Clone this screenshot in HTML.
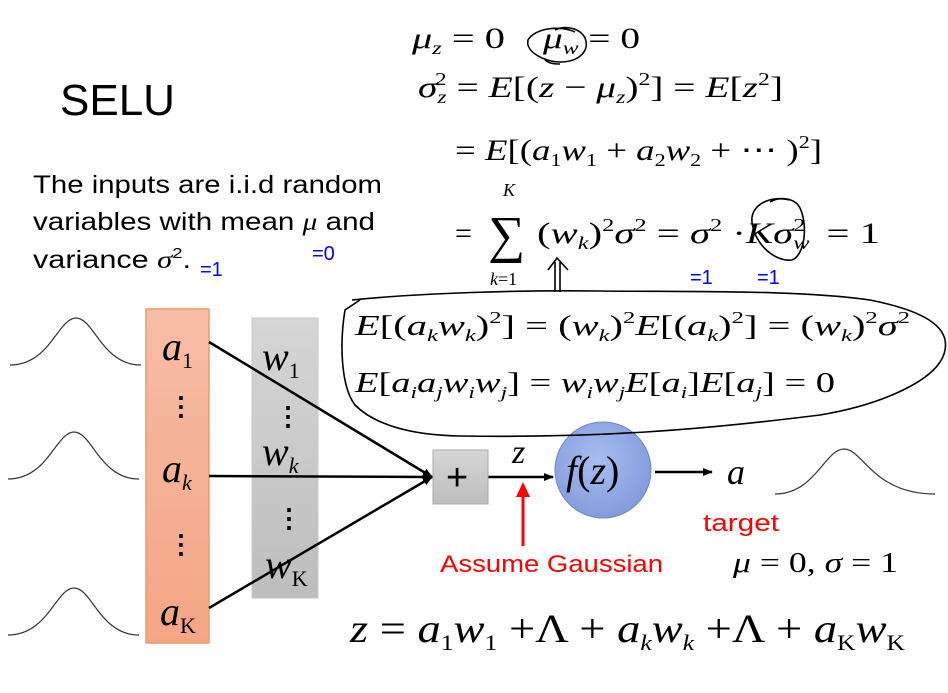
<!DOCTYPE html>
<html><head><meta charset="utf-8"><style>
body{margin:0;background:#fff}
svg{display:block}
.m{font-family:"Liberation Serif",serif;font-style:italic}
.s{font-family:"Liberation Sans",sans-serif}
</style></head><body>
<svg width="948" height="693" viewBox="0 0 948 693" xmlns="http://www.w3.org/2000/svg">
<defs>
<linearGradient id="og" x1="0" y1="0" x2="0" y2="1"><stop offset="0" stop-color="#f7bda6"/><stop offset="1" stop-color="#f4a584"/></linearGradient>
<linearGradient id="gg" x1="0" y1="0" x2="0" y2="1"><stop offset="0" stop-color="#d6d6d6"/><stop offset="1" stop-color="#bdbdbd"/></linearGradient>
<radialGradient id="cg" cx="0.45" cy="0.4" r="0.7"><stop offset="0" stop-color="#a9bdf0"/><stop offset="1" stop-color="#7c96d8"/></radialGradient>
<marker id="ar" markerWidth="10" markerHeight="10" refX="9" refY="5" orient="auto" markerUnits="userSpaceOnUse"><path d="M0,1 L10,5 L0,9 z" fill="#000"/></marker>
</defs>
<text x="60" y="115" class="s" font-size="44">SELU</text>
<text x="33" y="193" class="s" font-size="25" textLength="349" lengthAdjust="spacingAndGlyphs">The inputs are i.i.d random</text>
<text x="33" y="230" class="s" font-size="25" textLength="342" lengthAdjust="spacingAndGlyphs">variables with mean <tspan class="m">μ</tspan> and</text>
<text x="33" y="268" class="s" font-size="25" textLength="158" lengthAdjust="spacingAndGlyphs">variance <tspan class="m">σ</tspan><tspan font-size="15" dy="-10">2</tspan><tspan dy="10">.</tspan></text>
<text x="200" y="276" class="s" font-size="20" fill="#0000ff">=1</text>
<text x="312" y="260" class="s" font-size="20" fill="#0000ff">=0</text>

<g fill="none" stroke="#333" stroke-width="1.2">
<path d="M10,365 C50,365 58,318 76,318 C94,318 102,365 141,365"/>
<path d="M8,479 C48,479 56,432 74,432 C92,432 100,479 139,479"/>
<path d="M8,635 C48,635 56,588 74,588 C92,588 100,635 139,635"/>
<path d="M775,494 C815,494 825,449 844,449 C863,449 873,494 935,494"/>
</g>

<rect x="146" y="309" width="63" height="334" fill="url(#og)" stroke="#ef9a6e" stroke-width="1.5"/>
<rect x="252" y="318" width="66" height="280" fill="url(#gg)" stroke="#c8c8c8"/>
<g class="m" font-size="40">
<text x="162" y="360">a<tspan font-style="normal" font-size="22" dy="8">1</tspan></text>
<text x="162" y="482">a<tspan font-size="22" dy="8">k</tspan></text>
<text x="160" y="625">a<tspan font-style="normal" font-size="22" dy="8">K</tspan></text>
<text x="262" y="370">w<tspan font-style="normal" font-size="22" dy="8">1</tspan></text>
<text x="262" y="465">w<tspan font-size="22" dy="8">k</tspan></text>
<text x="265" y="578">w<tspan font-style="normal" font-size="22" dy="8">K</tspan></text>
</g>
<g class="s" font-size="26" font-weight="bold">
<text x="168" y="415">⋮</text><text x="168" y="553">⋮</text>
<text x="275" y="425">⋮</text><text x="276" y="527">⋮</text>
</g>
<g stroke="#000" stroke-width="2.5" fill="none">
<line x1="209" y1="342" x2="432" y2="477" marker-end="url(#ar)"/>
<line x1="209" y1="476" x2="432" y2="477" marker-end="url(#ar)"/>
<line x1="209" y1="608" x2="432" y2="477" marker-end="url(#ar)"/>
<line x1="488" y1="477" x2="553" y2="477" marker-end="url(#ar)"/>
<line x1="655" y1="472" x2="712" y2="472" marker-end="url(#ar)"/>
</g>
<rect x="433" y="450" width="55" height="54" fill="url(#gg)" stroke="#aaa"/>
<text x="446" y="490" class="s" font-size="38">+</text>
<text x="512" y="463" class="m" font-size="34">z</text>
<circle cx="603" cy="470" r="48" fill="url(#cg)" stroke="#6f87c8"/>
<text x="566" y="484" class="m" font-size="40">f<tspan font-style="normal">(</tspan>z<tspan font-style="normal">)</tspan></text>
<text x="727" y="484" class="m" font-size="36">a</text>
<line x1="523" y1="546" x2="523" y2="495" stroke="#f00" stroke-width="3"/>
<path d="M516,497 L523,482 L530,497 z" fill="#f00"/>
<text x="440" y="572" class="s" font-size="24" fill="#f00" textLength="223" lengthAdjust="spacingAndGlyphs">Assume Gaussian</text>
<text x="703" y="531" class="s" font-size="24" fill="#f00" textLength="76" lengthAdjust="spacingAndGlyphs">target</text>
<text x="733" y="572" class="m" font-size="28" textLength="165" lengthAdjust="spacingAndGlyphs">μ <tspan font-style="normal">= 0,</tspan> σ <tspan font-style="normal">= 1</tspan></text>
<text x="350" y="642" class="m" font-size="40" textLength="555" lengthAdjust="spacingAndGlyphs">z <tspan font-style="normal">=</tspan> a<tspan font-style="normal" font-size="22" dy="8">1</tspan><tspan dy="-8">w</tspan><tspan font-style="normal" font-size="22" dy="8">1</tspan><tspan font-style="normal" dy="-8"> +Λ +</tspan> a<tspan font-size="22" dy="8">k</tspan><tspan dy="-8">w</tspan><tspan font-size="22" dy="8">k</tspan><tspan font-style="normal" dy="-8"> +Λ +</tspan> a<tspan font-style="normal" font-size="22" dy="8">K</tspan><tspan dy="-8">w</tspan><tspan font-style="normal" font-size="22" dy="8">K</tspan></text>

<g class="m" font-size="30">
<text x="412" y="48" textLength="93" lengthAdjust="spacingAndGlyphs">μ<tspan font-size="18" dy="6">z</tspan><tspan font-style="normal" dy="-6"> = 0</tspan></text>
<text x="543" y="48" textLength="97" lengthAdjust="spacingAndGlyphs">μ<tspan font-size="18" dy="6">w</tspan><tspan font-style="normal" dy="-6"> = 0</tspan></text>
<text x="418" y="97" textLength="365" lengthAdjust="spacingAndGlyphs">σ<tspan font-size="18" dy="6">z</tspan><tspan font-style="normal" font-size="18" dx="-9" dy="-18">2</tspan><tspan font-style="normal" dy="12"> = </tspan>E<tspan font-style="normal">[(</tspan>z <tspan font-style="normal">−</tspan> μ<tspan font-size="18" dy="6">z</tspan><tspan font-style="normal" dy="-6">)</tspan><tspan font-style="normal" font-size="18" dy="-12">2</tspan><tspan font-style="normal" dy="12">] = </tspan>E<tspan font-style="normal">[</tspan>z<tspan font-style="normal" font-size="18" dy="-12">2</tspan><tspan font-style="normal" dy="12">]</tspan></text>
<text x="455" y="160" textLength="367" lengthAdjust="spacingAndGlyphs"><tspan font-style="normal">= </tspan>E<tspan font-style="normal">[(</tspan>a<tspan font-style="normal" font-size="18" dy="6">1</tspan><tspan dy="-6">w</tspan><tspan font-style="normal" font-size="18" dy="6">1</tspan><tspan font-style="normal" dy="-6"> + </tspan>a<tspan font-style="normal" font-size="18" dy="6">2</tspan><tspan dy="-6">w</tspan><tspan font-style="normal" font-size="18" dy="6">2</tspan><tspan font-style="normal" dy="-6"> + ⋯ )</tspan><tspan font-style="normal" font-size="18" dy="-12">2</tspan><tspan font-style="normal" dy="12">]</tspan></text>
<text x="455" y="243" font-style="normal">=</text>
<text x="488" y="252" font-style="normal" font-size="52">∑</text>
<text x="503" y="196" font-size="18">K</text>
<text x="490" y="285" font-size="18">k<tspan font-style="normal">=1</tspan></text>
<text x="537" y="243" textLength="343" lengthAdjust="spacingAndGlyphs"><tspan font-style="normal">(</tspan>w<tspan font-size="18" dy="6">k</tspan><tspan font-style="normal" dy="-6">)</tspan><tspan font-style="normal" font-size="18" dy="-12">2</tspan><tspan dy="12">σ</tspan><tspan font-style="normal" font-size="18" dy="-12">2</tspan><tspan font-style="normal" dy="12"> = </tspan>σ<tspan font-style="normal" font-size="18" dy="-12">2</tspan><tspan font-style="normal" dy="12"> ·</tspan>Kσ<tspan font-size="18" dy="6">w</tspan><tspan font-style="normal" font-size="18" dx="-12" dy="-18">2</tspan><tspan font-style="normal" dy="12" dx="8"> = 1</tspan></text>
</g>
<text x="690" y="284" class="s" font-size="20" fill="#0000ff">=1</text>
<text x="757" y="284" class="s" font-size="20" fill="#0000ff">=1</text>

<g class="m" font-size="28">
<text x="355" y="335" textLength="555" lengthAdjust="spacingAndGlyphs">E<tspan font-style="normal">[(</tspan>a<tspan font-size="17" dy="6">k</tspan><tspan dy="-6">w</tspan><tspan font-size="17" dy="6">k</tspan><tspan font-style="normal" dy="-6">)</tspan><tspan font-style="normal" font-size="17" dy="-12">2</tspan><tspan font-style="normal" dy="12">] = (</tspan>w<tspan font-size="17" dy="6">k</tspan><tspan font-style="normal" dy="-6">)</tspan><tspan font-style="normal" font-size="17" dy="-12">2</tspan><tspan dy="12">E</tspan><tspan font-style="normal">[(</tspan>a<tspan font-size="17" dy="6">k</tspan><tspan font-style="normal" dy="-6">)</tspan><tspan font-style="normal" font-size="17" dy="-12">2</tspan><tspan font-style="normal" dy="12">] = (</tspan>w<tspan font-size="17" dy="6">k</tspan><tspan font-style="normal" dy="-6">)</tspan><tspan font-style="normal" font-size="17" dy="-12">2</tspan><tspan dy="12">σ</tspan><tspan font-style="normal" font-size="17" dy="-12">2</tspan></text>
<text x="355" y="392" textLength="480" lengthAdjust="spacingAndGlyphs">E<tspan font-style="normal">[</tspan>a<tspan font-size="17" dy="6">i</tspan><tspan dy="-6">a</tspan><tspan font-size="17" dy="6">j</tspan><tspan dy="-6">w</tspan><tspan font-size="17" dy="6">i</tspan><tspan dy="-6">w</tspan><tspan font-size="17" dy="6">j</tspan><tspan font-style="normal" dy="-6">] = </tspan>w<tspan font-size="17" dy="6">i</tspan><tspan dy="-6">w</tspan><tspan font-size="17" dy="6">j</tspan><tspan dy="-6">E</tspan><tspan font-style="normal">[</tspan>a<tspan font-size="17" dy="6">i</tspan><tspan font-style="normal" dy="-6">]</tspan>E<tspan font-style="normal">[</tspan>a<tspan font-size="17" dy="6">j</tspan><tspan font-style="normal" dy="-6">]  = 0</tspan></text>
</g>

<g fill="none" stroke="#000" stroke-width="1.6">
<path d="M575,32 C560,25 535,28 528,40 C525,52 545,62 560,62 C580,62 590,50 585,38 C580,28 565,25 555,30"/>
<path d="M545,60 C550,64 556,64 560,64"/>
<path d="M790,200 C770,195 750,205 752,222 C755,245 775,262 792,260 C805,255 808,225 800,208 C795,198 780,196 770,202"/>
<path d="M555,292 L555,262 M560,292 L560,262 M548,270 L557,258 L568,270"/>
<path d="M352,300 C420,293 520,290 600,291 C700,292 800,290 870,300 C920,310 950,325 945,350 C940,380 880,405 820,415 C700,430 600,438 460,436 C400,435 370,420 355,405 C340,385 340,340 345,310 L360,300"/>
</g>
</svg>
</body></html>
